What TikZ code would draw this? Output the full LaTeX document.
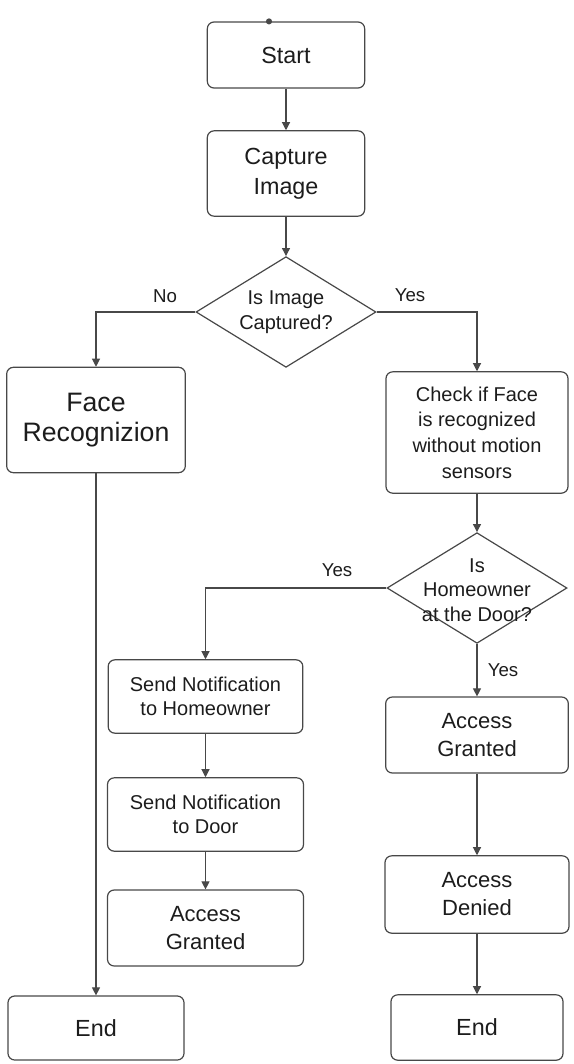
\documentclass[tikz,border=0pt]{standalone}
\usepackage{fontspec}
\setmainfont{Liberation Sans}
\usepackage{xcolor}
\definecolor{fcline}{RGB}{72,72,72}
\definecolor{fctext}{RGB}{28,28,28}
\usetikzlibrary{arrows.meta, positioning, shapes.geometric, calc}

\tikzset{
  box/.style={draw=fcline, line width=0.9pt, rounded corners=5pt, align=center, text=fctext, inner sep=2pt},
  decision/.style={draw=fcline, line width=0.9pt, diamond, inner sep=0pt, minimum width=135pt, minimum height=83pt},
  dectext/.style={align=center, text=fctext, font=\fontsize{15}{18.5}\selectfont},
  flow/.style={draw=fcline, line width=0.8pt, -{Triangle[length=6pt,width=6pt]}},
  lbl/.style={text=fctext, font=\fontsize{14}{16}\selectfont},
}

\begin{document}
\begin{tikzpicture}[x=0.75pt, y=-0.75pt]
  \useasboundingbox (0,0) rectangle (574,1064);

  % --- Top: start and capture ---
  \node[box, minimum width=118pt, minimum height=49.5pt, font=\fontsize{17.5}{22.5}\selectfont] (start) at (286,55) {Start};
  \fill[fcline] ($(start.north)+(-17,0)$) circle (2.3pt);
  \node[box, minimum width=118pt, minimum height=64pt, font=\fontsize{17.5}{22.5}\selectfont] (capture) at (286,173.5) {Capture\\Image};
  \node[decision] (d1) at (286,312) {};
  \node[dectext] (d1txt) at (d1) {Is Image\\Captured?};

  % --- Left branch ---
  \node[box, minimum width=134pt, minimum height=79pt, font=\fontsize{20}{22}\selectfont] (face) at (96,420) {Face\\Recognizion};
  \node[box, minimum width=132pt, minimum height=48pt, font=\fontsize{17.5}{22.5}\selectfont] (endleft) at (96,1028) {End};

  % --- Right branch ---
  \node[box, minimum width=136.5pt, minimum height=91pt, font=\fontsize{15}{19.3}\selectfont] (check) at (477,432.5) {Check if Face\\is recognized\\without motion\\sensors};
  \node[decision] (d2) at (477,588) {};
  \node[dectext] (d2txt) at (477,590) {Is\\Homeowner\\at the Door?};

  % --- Notification column ---
  \node[box, minimum width=146pt, minimum height=55pt, font=\fontsize{15}{18}\selectfont] (notifyhome) at (205.5,696.5) {Send Notification\\to Homeowner};
  \node[box, minimum width=147pt, minimum height=55pt, font=\fontsize{15}{18}\selectfont] (notifydoor) at (205.5,814.5) {Send Notification\\to Door};
  \node[box, minimum width=147pt, minimum height=57pt, font=\fontsize{16.5}{21}\selectfont] (grantleft) at (205.5,928) {Access\\Granted};

  % --- Access column ---
  \node[box, minimum width=137pt, minimum height=57pt, font=\fontsize{16.5}{21}\selectfont] (grantright) at (477,735) {Access\\Granted};
  \node[box, minimum width=138pt, minimum height=58pt, font=\fontsize{16.5}{21}\selectfont] (denied) at (477,894.5) {Access\\Denied};
  \node[box, minimum width=129pt, minimum height=49pt, font=\fontsize{17.5}{22.5}\selectfont] (endright) at (477,1027.5) {End};

  % Branch labels
  \node[lbl] (no1) at (165,296) {No};
  \node[lbl] (yes1) at (410,295) {Yes};
  \node[lbl] (yes2) at (337,570) {Yes};
  \node[lbl] (yes3) at (503,670) {Yes};

  % Connectors
  \draw[flow] (start) -- (capture);
  \draw[flow] (capture) -- (d1);
  \draw[flow] (d1.west) -| (face.north);
  \draw[flow] (d1.east) -| (check.north);
  \draw[flow] (face) -- (endleft);
  \draw[flow] (check) -- (d2);
  \draw[flow] (d2.west) -| (notifyhome.north);
  \draw[flow] (d2) -- (grantright);
  \draw[flow] (notifyhome) -- (notifydoor);
  \draw[flow] (notifydoor) -- (grantleft);
  \draw[flow] (grantright) -- (denied);
  \draw[flow] (denied) -- (endright);
\end{tikzpicture}
\end{document}
